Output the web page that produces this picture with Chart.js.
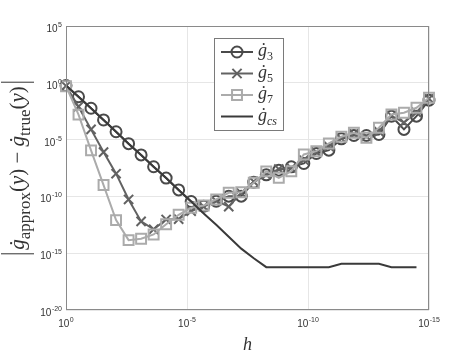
<!DOCTYPE html>
<html><head><meta charset="utf-8">
<script src="https://cdn.jsdelivr.net/npm/chart.js@4.4.1/dist/chart.umd.min.js"></script>
<style>html,body{margin:0;padding:0;background:#fff;}#wrap{width:474px;height:355px;position:relative;}</style>
</head><body><div id="wrap"><canvas id="c" width="474" height="355"></canvas></div>
<script>
// step sizes h (x axis)
const hValues = [1, 3.039e-1, 9.237e-2, 2.807e-2, 8.532e-3, 2.593e-3, 7.880e-4, 2.395e-4, 7.279e-5, 2.212e-5,
  6.723e-6, 2.043e-6, 6.210e-7, 1.887e-7, 5.736e-8, 1.743e-8, 5.298e-9, 1.610e-9, 4.894e-10, 1.487e-10,
  4.520e-11, 1.374e-11, 4.175e-12, 1.269e-12, 3.857e-13, 1.172e-13, 3.562e-14, 1.083e-14, 3.290e-15, 1e-15];
const g3Values = [5.75e-1, 5.89e-2, 5.75e-3, 5.37e-4, 4.90e-5, 4.37e-6, 4.47e-7, 4.07e-8, 4.07e-9, 3.72e-10,
  3.55e-11, 1.38e-11, 3.80e-11, 1.05e-10, 1.05e-10, 1.78e-9, 7.94e-9, 2.04e-8, 3.98e-8, 7.94e-8,
  6.03e-7, 1.18e-6, 1.18e-5, 2.29e-5, 2.29e-5, 2.82e-5, 1.15e-3, 7.94e-5, 1.15e-3, 2.95e-2];
const g5Values = [5.25e-1, 7.94e-3, 7.94e-5, 7.94e-7, 1.0e-8, 5.37e-11, 6.31e-13, 1.26e-13, 9.33e-13, 1.0e-12,
  5.01e-12, 1.26e-11, 3.98e-11, 1.26e-11, 2.00e-10, 2.00e-9, 7.94e-9, 2.51e-8, 3.16e-8, 1.58e-7,
  7.94e-7, 2.51e-6, 1.26e-5, 3.16e-5, 2.00e-5, 5.01e-5, 1.26e-3, 3.16e-4, 2.51e-3, 3.98e-2];
const g7Values = [5.01e-1, 1.58e-3, 1.12e-6, 1.0e-9, 8.13e-13, 1.41e-14, 1.86e-14, 4.47e-14, 3.55e-13, 2.40e-12,
  1.0e-11, 1.58e-11, 5.37e-11, 2.09e-10, 2.34e-10, 1.58e-9, 1.58e-8, 4.37e-9, 1.66e-8, 4.90e-7,
  9.55e-7, 4.57e-6, 1.78e-5, 3.98e-5, 1.45e-5, 1.10e-4, 1.62e-3, 2.29e-3, 6.31e-3, 4.79e-2];
const gcsValues = [5.75e-1, 5.89e-2, 5.75e-3, 5.37e-4, 4.90e-5, 4.37e-6, 4.47e-7, 4.07e-8, 4.07e-9, 3.72e-10,
  3.55e-11, 3.16e-12, 3.16e-13, 2.82e-14, 2.51e-15, 3.55e-16, 5.89e-17, 5.89e-17, 5.89e-17, 5.89e-17,
  5.89e-17, 5.89e-17, 1.17e-16, 1.17e-16, 1.17e-16, 1.17e-16, 5.89e-17, 5.89e-17, 5.89e-17];
const xTickValues = [1, 1e-5, 1e-10, 1e-15];
const xTickExponents = ['0', '-5', '-10', '-15'];
const yTickValues = [1e5, 1, 1e-5, 1e-10, 1e-15, 1e-20];
const yTickExponents = ['5', '0', '-5', '-10', '-15', '-20'];
const seriesSubs = ['3', '5', '7', 'cs'];

const C3 = '#4a4a4a', C5 = '#626262', C7 = '#ababab', CCS = '#3a3a3a';
const GRID = '#e6e6e6', AXIS = '#8a8a8a', TXT = '#333333';
const SANS = '"Liberation Sans", Arial, sans-serif';
const SERIF = '"Liberation Serif", "Times New Roman", serif';

const pts = vals => vals.map((v, i) => ({x: hValues[i], y: v}));

function drawMarker(ctx, style, x, y, r, color) {
  ctx.save();
  ctx.strokeStyle = color; ctx.lineWidth = 2;
  ctx.beginPath();
  if (style === 'circle') { ctx.arc(x, y, r, 0, Math.PI * 2); }
  else if (style === 'rect') { const s = r * Math.SQRT1_2; ctx.rect(x - s, y - s, 2 * s, 2 * s); }
  else if (style === 'crossRot') { const s = r * Math.SQRT1_2; ctx.moveTo(x - s, y - s); ctx.lineTo(x + s, y + s); ctx.moveTo(x - s, y + s); ctx.lineTo(x + s, y - s); }
  ctx.stroke();
  ctx.restore();
}

const decor = {
  id: 'decor',
  afterDraw(chart) {
    const ctx = chart.ctx, a = chart.chartArea, xs = chart.scales.x, ys = chart.scales.y;
    ctx.save();
    // axes box
    ctx.strokeStyle = AXIS; ctx.lineWidth = 1;
    ctx.strokeRect(Math.round(a.left) + 0.5, Math.round(a.top) + 0.5, Math.round(a.right - a.left) - 1, Math.round(a.bottom - a.top) - 1);
    // tick labels
    ctx.fillStyle = TXT; ctx.textBaseline = 'alphabetic'; ctx.textAlign = 'left';
    const label = (exp) => {
      ctx.font = '10px ' + SANS; const w10 = ctx.measureText('10').width;
      ctx.font = '7px ' + SANS; const we = ctx.measureText(exp).width;
      return {w10, we, total: w10 + we + 0.5};
    };
    xTickValues.forEach((v, i) => {
      const px = xs.getPixelForValue(v), m = label(xTickExponents[i]);
      const sx = px - m.total / 2;
      ctx.font = '10px ' + SANS; ctx.fillText('10', sx, a.bottom + 17);
      ctx.font = '7px ' + SANS; ctx.fillText(xTickExponents[i], sx + m.w10 + 0.5, a.bottom + 12);
    });
    yTickValues.forEach((v, i) => {
      const py = ys.getPixelForValue(v), m = label(yTickExponents[i]);
      const sx = a.left - 4 - m.total;
      ctx.font = '10px ' + SANS; ctx.fillText('10', sx, py + 6);
      ctx.font = '7px ' + SANS; ctx.fillText(yTickExponents[i], sx + m.w10 + 0.5, py + 1);
    });
    // x title
    ctx.font = 'italic 18px ' + SERIF; ctx.textAlign = 'center';
    ctx.fillText('h', (a.left + a.right) / 2, 350);
    // y title (rotated)
    ctx.save();
    ctx.translate(24, (a.top + a.bottom) / 2);
    ctx.rotate(-Math.PI / 2);
    ctx.textAlign = 'left';
    const MI = 'italic 21px ' + SERIF, MR = '21px ' + SERIF, SR = '17px ' + SERIF;
    const pieces = [
      {t: 'ġ', f: MI, dy: 0}, {t: 'approx', f: SR, dy: 6}, {t: '(', f: MR, dy: 0}, {t: 'y', f: MI, dy: 0},
      {t: ')', f: MR, dy: 0}, {t: ' − ', f: MR, dy: 0}, {t: 'ġ', f: MI, dy: 0}, {t: 'true', f: SR, dy: 6},
      {t: '(', f: MR, dy: 0}, {t: 'y', f: MI, dy: 0}, {t: ')', f: MR, dy: 0}
    ];
    let total = 0;
    pieces.forEach(p => { ctx.font = p.f; p.w = ctx.measureText(p.t).width; total += p.w; });
    let cx = -total / 2;
    pieces.forEach(p => { ctx.font = p.f; ctx.fillText(p.t, cx, p.dy); cx += p.w; });
    ctx.strokeStyle = TXT; ctx.lineWidth = 1;
    ctx.beginPath();
    const bx = total / 2 + 4;
    ctx.moveTo(-bx, -23); ctx.lineTo(-bx, 10);
    ctx.moveTo(bx, -23); ctx.lineTo(bx, 10);
    ctx.stroke();
    ctx.restore();
    // legend
    const lx = 214, ly = 38, lw = 69, lh = 92;
    ctx.fillStyle = '#ffffff'; ctx.fillRect(lx, ly, lw, lh);
    ctx.strokeStyle = '#7a7a7a'; ctx.lineWidth = 1; ctx.strokeRect(lx + 0.5, ly + 0.5, lw, lh);
    const cols = [C3, C5, C7, CCS], styles = ['circle', 'crossRot', 'rect', null], rads = [5.5, 6.5, 7, 0];
    const rowsY = [52, 73.5, 95, 116.5];
    seriesSubs.forEach((s, i) => {
      const y = rowsY[i];
      ctx.strokeStyle = cols[i]; ctx.lineWidth = 2;
      ctx.beginPath(); ctx.moveTo(221, y); ctx.lineTo(253, y); ctx.stroke();
      if (styles[i]) drawMarker(ctx, styles[i], 237, y, rads[i], cols[i]);
      ctx.fillStyle = TXT; ctx.textAlign = 'left';
      ctx.font = 'italic 18px ' + SERIF; ctx.fillText('ġ', 258, y + 4);
      const gw = ctx.measureText('ġ').width;
      ctx.font = (i === 3 ? 'italic ' : '') + '12px ' + SERIF; ctx.fillText(s, 258 + gw, y + 8);
    });
    ctx.restore();
  }
};

const common = {showLine: true, borderWidth: 2, pointBorderWidth: 2, pointBackgroundColor: 'rgba(0,0,0,0)', backgroundColor: 'rgba(0,0,0,0)', clip: false, tension: 0};

new Chart(document.getElementById('c'), {
  type: 'scatter',
  data: {
    datasets: [
      Object.assign({label: 'g3', data: pts(g3Values), borderColor: C3, pointBorderColor: C3, pointStyle: 'circle', pointRadius: 5.5, order: 3}, common),
      Object.assign({label: 'g5', data: pts(g5Values), borderColor: C5, pointBorderColor: C5, pointStyle: 'crossRot', pointRadius: 6.5, order: 2}, common),
      Object.assign({label: 'g7', data: pts(g7Values), borderColor: C7, pointBorderColor: C7, pointStyle: 'rect', pointRadius: 7, order: 1}, common),
      Object.assign({label: 'gcs', data: pts(gcsValues), borderColor: CCS, pointRadius: 0, order: 0}, common)
    ]
  },
  options: {
    responsive: false, animation: false, devicePixelRatio: 1,
    layout: {padding: {left: 0, top: 26, right: 45, bottom: 0}},
    plugins: {legend: {display: false}, tooltip: {enabled: false}},
    events: [],
    scales: {
      x: {type: 'logarithmic', reverse: true, min: 1e-15, max: 1,
        afterBuildTicks: s => { s.ticks = xTickValues.map(v => ({value: v})); },
        ticks: {display: false}, grid: {color: GRID, drawTicks: false}, border: {display: false},
        afterFit: s => { s.height = 45; }},
      y: {type: 'logarithmic', min: 1e-20, max: 1e5,
        afterBuildTicks: s => { s.ticks = yTickValues.map(v => ({value: v})); },
        ticks: {display: false}, grid: {color: GRID, drawTicks: false}, border: {display: false},
        afterFit: s => { s.width = 66; }}
    }
  },
  plugins: [decor]
});
</script></body></html>
